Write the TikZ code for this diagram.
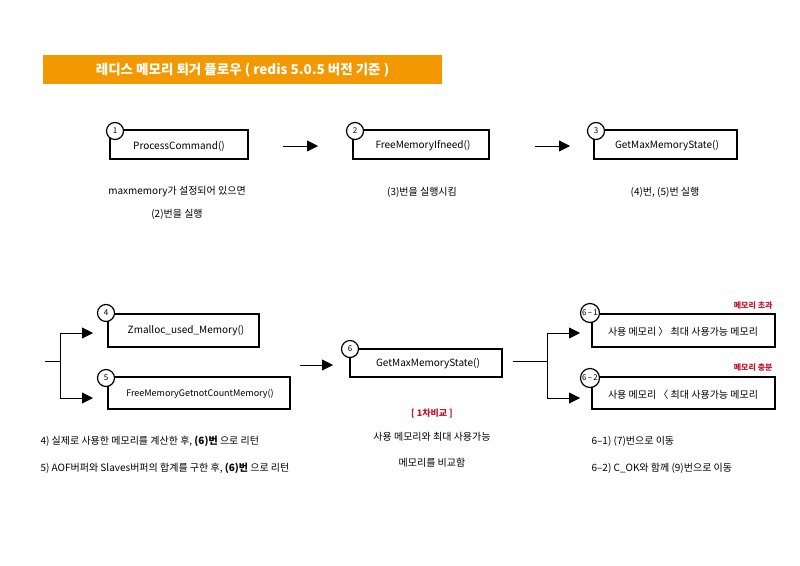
\documentclass[tikz,border=0pt]{standalone}
\usepackage{fontspec}
\setmainfont{Noto Sans CJK KR}
\usetikzlibrary{arrows.meta}
\definecolor{orangebar}{HTML}{F39800}
\definecolor{redtxt}{HTML}{C0182E}
\begin{document}
\begin{tikzpicture}[x=1pt,y=-1pt,
  fbox/.style={draw,line width=1.3pt,fill=white},
  num/.style={circle,draw,line width=1.2pt,fill=white,inner sep=0pt,minimum size=17pt,font=\fontsize{8}{9}\selectfont},
  lbl/.style={font=\fontsize{10}{12}\selectfont},
  arr/.style={line width=0.8pt,-{Triangle[length=11pt,width=11pt]}},
  ln/.style={line width=0.8pt}]
\useasboundingbox (0,0) rectangle (800,565);
\fill[orangebar] (43,55) rectangle (442,84);
\node[text=white,font=\fontsize{13.5}{15}\bfseries\selectfont] (title) at (242.5,70) {레디스 메모리 퇴거 플로우 ( redis 5.0.5 버전 기준 )};
% top row
\draw[fbox] (110,130) rectangle (248,159); \node[lbl] (b1) at (179,146) {ProcessCommand()};
\node[num] (n1) at (115,131) {1};
\draw[fbox] (353,130) rectangle (489,159); \node[lbl] (b2) at (423,146) {FreeMemoryIfneed()};
\node[num] (n2) at (355,131) {2};
\draw[fbox] (594,130) rectangle (737,159); \node[lbl] (b3) at (667,146) {GetMaxMemoryState()};
\node[num] (n3) at (596,131) {3};
\coordinate (a1s) at (283,146); \coordinate (a1e) at (318,146);
\draw[arr] (a1s) -- (a1e);
\coordinate (a2s) at (535,146); \coordinate (a2e) at (570,146);
\draw[arr] (a2s) -- (a2e);
\node[lbl] (t1) at (177,192) {maxmemory가 설정되어 있으면};
\node[lbl] (t2) at (177,214) {(2)번을 실행};
\node[lbl] (t3) at (422,192) {(3)번을 실행시킴};
\node[lbl] (t4) at (665,192) {(4)번, (5)번 실행};
% lower left
\draw[fbox] (108,314) rectangle (259,347); \node[lbl] (b4) at (186,331) {Zmalloc\_used\_Memory()};
\node[num] (n4) at (106,313) {4};
\draw[fbox] (108,377) rectangle (290,409); \node[lbl,font=\fontsize{9}{11}\selectfont] (b5) at (200,394) {FreeMemoryGetnotCountMemory()};
\node[num] (n5) at (106,378) {5};
\coordinate (l0) at (45,361); \coordinate (l1) at (60,361);
\coordinate (l2) at (60,333); \coordinate (l3) at (93,333);
\coordinate (l4) at (60,398); \coordinate (l5) at (93,398);
\draw[ln] (l0) -- (l1); \draw[ln] (l2) -- (l4);
\draw[arr] (l2) -- (l3); \draw[arr] (l4) -- (l5);
\coordinate (a3s) at (300,365); \coordinate (a3e) at (333,365);
\draw[arr] (a3s) -- (a3e);
\draw[fbox] (350,349) rectangle (502,377); \node[lbl] (b6) at (428,364) {GetMaxMemoryState()};
\node[num] (n6) at (350,349) {6};
\node[lbl,text=redtxt,font=\fontsize{9}{11}\bfseries\selectfont] (cmp) at (432,413) {[ 1차비교 ]};
\node[lbl] (c1) at (432,437) {사용 메모리와 최대 사용가능};
\node[lbl] (c2) at (432,463) {메모리를 비교함};
\node[lbl,anchor=west] (d4) at (37,441) {4) 실제로 사용한 메모리를 계산한 후, \textbf{(6)번} 으로 리턴};
\node[lbl,anchor=west] (d5) at (37,468) {5) AOF버퍼와 Slaves버퍼의 합계를 구한 후, \textbf{(6)번} 으로 리턴};
% lower right
\coordinate (r0) at (513,361); \coordinate (r1) at (547,361);
\coordinate (r2) at (547,333); \coordinate (r3) at (580,333);
\coordinate (r4) at (547,398); \coordinate (r5) at (580,398);
\draw[ln] (r0) -- (r1); \draw[ln] (r2) -- (r4);
\draw[arr] (r2) -- (r3); \draw[arr] (r4) -- (r5);
\draw[fbox] (592,314) rectangle (775,347); \node[lbl] (b61) at (683,332) {사용 메모리 〉 최대 사용가능 메모리};
\node[num,minimum size=19pt] (n61) at (590,313) {6\,–\,1};
\draw[fbox] (592,377) rectangle (775,409); \node[lbl] (b62) at (683,395) {사용 메모리 〈 최대 사용가능 메모리};
\node[num,minimum size=19pt] (n62) at (590,378) {6\,–\,2};
\node[text=redtxt,font=\fontsize{8}{9}\bfseries\selectfont,anchor=east] (over) at (776,306) {메모리 초과};
\node[text=redtxt,font=\fontsize{8}{9}\bfseries\selectfont,anchor=east] (enough) at (776,368) {메모리 충분};
\node[lbl,anchor=west] (e1) at (588,441) {6–1) (7)번으로 이동};
\node[lbl,anchor=west] (e2) at (588,468) {6–2) C\_OK와 함께 (9)번으로 이동};
\end{tikzpicture}
\end{document}
